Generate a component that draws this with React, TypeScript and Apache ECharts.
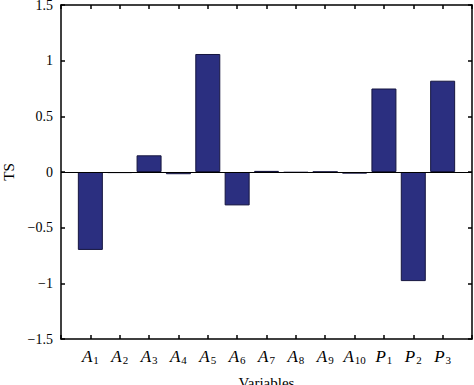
import React, { useEffect, useRef } from "react";
import * as echarts from "echarts";

const letters = ["A", "A", "A", "A", "A", "A", "A", "A", "A", "A", "P", "P", "P"];
const subs = ["1", "2", "3", "4", "5", "6", "7", "8", "9", "10", "1", "2", "3"];
const tsValues = [-0.7, -0.01, 0.15, -0.02, 1.06, -0.3, 0.01, -0.006, 0.002, -0.015, 0.75, -0.98, 0.82];
const yTicks = [-1.5, -1, -0.5, 0, 0.5, 1, 1.5];

const FONT = "'Liberation Serif', 'DejaVu Serif', serif";

export default function App() {
  const ref = useRef<HTMLDivElement>(null);
  useEffect(() => {
    if (!ref.current) return;
    const chart = echarts.init(ref.current, null, { renderer: "svg" });
    const axisLine = { show: true, onZero: false, lineStyle: { color: "#000", width: 1.5 } };
    const tick = { show: true, inside: true, length: 4, lineStyle: { color: "#000", width: 1.5 } };
    chart.setOption({
      animation: false,
      backgroundColor: "#fff",
      grid: { left: 61, right: 2, top: 5, bottom: 46, containLabel: false, outerBoundsMode: "none" },
      xAxis: [
        {
          type: "value",
          position: "bottom",
          min: 0,
          max: letters.length + 1,
          interval: 1,
          axisLine,
          axisTick: tick,
          splitLine: { show: false },
          axisLabel: {
            margin: 9,
            formatter: (v: number) => {
              const i = Math.round(v) - 1;
              if (i < 0 || i >= letters.length) return "";
              return `{a|${letters[i]}}{s|${subs[i]}}`;
            },
            rich: {
              a: { fontFamily: FONT, fontStyle: "italic", fontSize: 17, color: "#000", verticalAlign: "top", lineHeight: 17 },
              s: { fontFamily: FONT, fontSize: 11, color: "#000", verticalAlign: "bottom", lineHeight: 11, padding: [9, 0, 0, 1] },
            },
          },
          name: "Variables",
          nameLocation: "middle",
          nameGap: 36,
          nameTextStyle: { fontFamily: FONT, fontSize: 15, color: "#000", verticalAlign: "top" },
        },
        {
          type: "value",
          position: "top",
          min: 0,
          max: letters.length + 1,
          interval: 1,
          axisLine,
          axisTick: tick,
          axisLabel: { show: false },
          splitLine: { show: false },
        },
      ],
      yAxis: [
        {
          type: "value",
          position: "left",
          min: yTicks[0],
          max: yTicks[yTicks.length - 1],
          interval: 0.5,
          axisLine,
          axisTick: tick,
          splitLine: { show: false },
          axisLabel: {
            margin: 8,
            fontFamily: FONT,
            fontSize: 14,
            color: "#000",
            formatter: (v: number) => String(v).replace("-", "\u2212"),
          },
          name: "TS",
          nameLocation: "middle",
          nameGap: 45,
          nameTextStyle: { fontFamily: FONT, fontSize: 15, color: "#000" },
        },
        {
          type: "value",
          position: "right",
          min: yTicks[0],
          max: yTicks[yTicks.length - 1],
          interval: 0.5,
          axisLine,
          axisTick: tick,
          axisLabel: { show: false },
          splitLine: { show: false },
        },
      ],
      series: [
        {
          type: "bar",
          xAxisIndex: 0,
          yAxisIndex: 0,
          barWidth: 25,
          data: tsValues.map((v, i) => [i + 1, v]),
          itemStyle: { color: "#2b2f80", borderColor: "#15153f", borderWidth: 1 },
          markLine: {
            silent: true,
            symbol: "none",
            label: { show: false },
            lineStyle: { color: "#000", width: 1, type: "solid" },
            data: [{ yAxis: 0 }],
          },
        },
      ],
    });
    return () => chart.dispose();
  }, []);
  return <div ref={ref} style={{ position: "fixed", left: 0, top: 0, width: 474, height: 385 }} />;
}
